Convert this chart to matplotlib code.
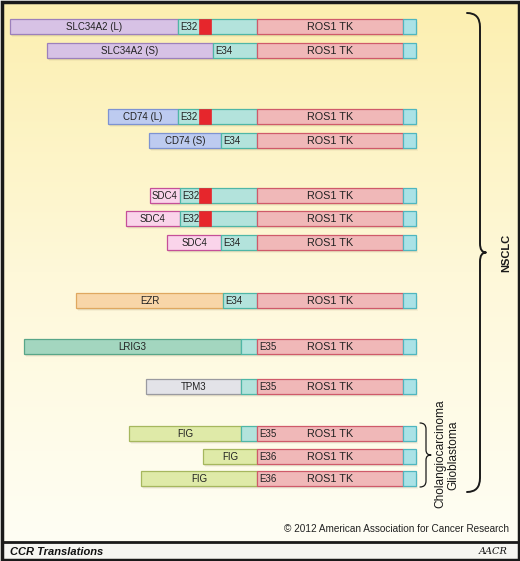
import numpy as np
import matplotlib
matplotlib.use("Agg")
import matplotlib.pyplot as plt
from matplotlib.patches import Rectangle, PathPatch
from matplotlib.path import Path
from matplotlib.colors import LinearSegmentedColormap

plt.rcParams['font.family'] = ['Liberation Sans', 'DejaVu Sans']

# ---------------- data ----------------
partner_names = ['SLC34A2 (L)', 'SLC34A2 (S)', 'CD74 (L)', 'CD74 (S)', 'SDC4', 'SDC4', 'SDC4',
                 'EZR', 'LRIG3', 'TPM3', 'FIG', 'FIG', 'FIG']
partner_start = [10, 47, 108, 149, 150, 126, 167, 76, 24, 146, 129, 203, 141]
partner_end = [178, 213, 178, 221, 180, 180, 221, 223, 241, 241, 241, 257, 257]
ros1_exon = ['E32', 'E34', 'E32', 'E34', 'E32', 'E32', 'E34', 'E34', 'E35', 'E35', 'E35', 'E36', 'E36']
ros1_tk_start = 257
ros1_tk_end = 403
ros1_c_end = 416
tm_box = (199, 211)          # red box in E32 fusions
tk_label = 'ROS1 TK'
group_nsclc = 'NSCLC'
group_other = ['Cholangiocarcinoma', 'Glioblastoma']
copyright_text = '\u00a9 2012 American Association for Cancer Research'
footer_text = 'CCR Translations'

# ---------------- layout / style ----------------
row_y = [26, 50, 116, 140, 195, 218, 242, 300, 346, 386, 433, 456, 478]
bar_h = 15
partner_style = {
    'SLC34A2': ('#d7c2e5', '#9c80bb'),
    'CD74': ('#bdcbf0', '#7d93d2'),
    'SDC4': ('#fad4ea', '#c54f98'),
    'EZR': ('#f8d6a8', '#dfa860'),
    'LRIG3': ('#a3d6bf', '#58a688'),
    'TPM3': ('#e3e3e8', '#9a9aa0'),
    'FIG': ('#dfeaa8', '#a6b75e'),
}
teal_fc, teal_ec = '#b3e3dc', '#4fb6a6'
ros_fc, ros_ec = '#f0b8b8', '#cf5a6a'
end_fc, end_ec = '#aae2e6', '#4fb6bf'
red_c = '#e6262c'

fig = plt.figure(figsize=(5.2, 5.61), dpi=100)
ax = fig.add_axes([0, 0, 1, 1])
ax.set_xlim(0, 520)
ax.set_ylim(561, 0)
ax.axis('off')

# background
fig.patch.set_facecolor('#f6f6f2')
cmap = LinearSegmentedColormap.from_list('bg', ['#fcefb0', '#fef8d9', '#fffef4'])
grad = np.linspace(0, 1, 256).reshape(-1, 1)
ax.imshow(grad, cmap=cmap, extent=[2, 518, 542, 2], aspect='auto', zorder=0)
# frame
ax.add_patch(Rectangle((1.5, 1.5), 517, 558, fill=False, ec='#1a1a1a', lw=2.5, zorder=10))
ax.plot([1.5, 518.5], [542, 542], color='#1a1a1a', lw=2.0, zorder=10)


def seg(x0, x1, y, fc, ec, z=3):
    if x1 <= x0:
        return
    ax.add_patch(Rectangle((x0, y - bar_h / 2), x1 - x0, bar_h, fc=fc, ec=ec, lw=0.9, zorder=z))


for name, xs, xe, ex, y in zip(partner_names, partner_start, partner_end, ros1_exon, row_y):
    key = name.split(' ')[0]
    fc, ec = partner_style[key]
    # shadow
    for off, a in [(2.0, 0.10), (3.5, 0.06)]:
        ax.add_patch(Rectangle((xs + off * 0.6, y - bar_h / 2 + off), ros1_c_end - xs, bar_h,
                               fc='#6b5a30', ec='none', alpha=a, zorder=1))
    seg(xs, xe, y, fc, ec)
    ax.text((xs + xe) / 2, y + 0.5, name, ha='center', va='center', fontsize=7, color='#222222', zorder=6)
    # ROS1 part before TK
    seg(xe, ros1_tk_start, y, teal_fc, teal_ec)
    if ex == 'E32':
        ax.add_patch(Rectangle((tm_box[0], y - bar_h / 2), tm_box[1] - tm_box[0], bar_h,
                               fc=red_c, ec=red_c, lw=0.5, zorder=4))
    seg(ros1_tk_start, ros1_tk_end, y, ros_fc, ros_ec)
    seg(ros1_tk_end, ros1_c_end, y, end_fc, end_ec)
    ax.text((ros1_tk_start + ros1_tk_end) / 2, y + 0.5, tk_label, ha='center', va='center',
            fontsize=7.8, color='#222222', zorder=6)
    if ex in ('E32', 'E34'):
        ax.text(xe + 2, y + 0.5, ex, ha='left', va='center', fontsize=7, color='#222222', zorder=6)
    else:
        ax.text(ros1_tk_start + 2, y + 0.5, ex, ha='left', va='center', fontsize=7, color='#222222', zorder=6)


def brace(x_end, x_mid, x_tip, y0, y1, r, tip_h, lw):
    ym = (y0 + y1) / 2
    verts = [(x_end, y0), (x_mid, y0), (x_mid, y0 + r), (x_mid, y0 + r),
             (x_mid, ym - tip_h), (x_mid, ym - tip_h), (x_mid, ym), (x_tip, ym),
             (x_mid, ym), (x_mid, ym + tip_h), (x_mid, ym + tip_h),
             (x_mid, y1 - r), (x_mid, y1 - r), (x_mid, y1), (x_end, y1)]
    codes = [Path.MOVETO, Path.CURVE3, Path.CURVE3, Path.LINETO,
             Path.LINETO, Path.LINETO, Path.CURVE3, Path.CURVE3,
             Path.CURVE3, Path.CURVE3, Path.LINETO,
             Path.LINETO, Path.LINETO, Path.CURVE3, Path.CURVE3]
    ax.add_patch(PathPatch(Path(verts, codes), fc='none', ec='#1a1a1a', lw=lw, zorder=5,
                           capstyle='round', joinstyle='round'))


brace(467, 480, 486, 13, 492, 14, 9, 1.4)
brace(420, 426, 431, 423, 487, 6, 5, 0.9)

ax.text(506, 253, group_nsclc, rotation=90, ha='center', va='center', fontsize=8,
        fontweight='bold', color='#1a1a1a')
ax.text(440, 454, group_other[0], rotation=90, ha='center', va='center', fontsize=8.6, color='#1a1a1a')
ax.text(453, 455, group_other[1], rotation=90, ha='center', va='center', fontsize=8.6, color='#1a1a1a')

ax.text(509, 529, copyright_text, ha='right', va='center', fontsize=7.2, color='#222222')
ax.text(10, 552, footer_text, ha='left', va='center', fontsize=8, fontweight='bold',
        fontstyle='italic', color='#111111')
ax.text(508, 552, 'AACR', ha='right', va='center', fontsize=7, fontstyle='italic',
        family='DejaVu Serif', color='#111111')

fig.savefig('out.png', dpi=100)
